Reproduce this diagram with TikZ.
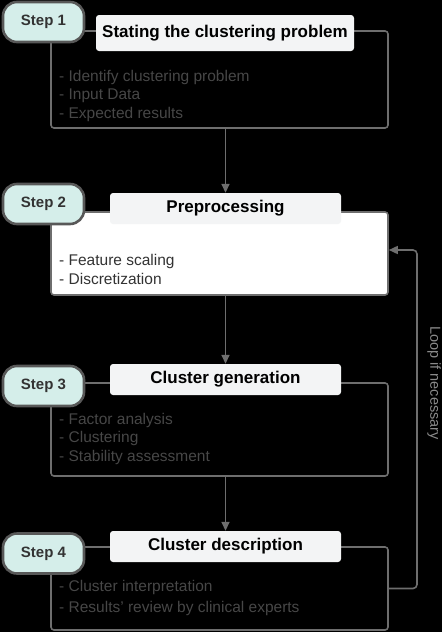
\documentclass[tikz,border=0pt]{standalone}
\usepackage{fontspec}
\setmainfont{Liberation Sans}
\usetikzlibrary{arrows.meta}
\definecolor{pillfill}{HTML}{D5EEEA}
\definecolor{pillline}{HTML}{585858}
\definecolor{frameline}{HTML}{6E6E6E}
\definecolor{titlefill}{HTML}{F3F4F5}
\definecolor{dimtext}{HTML}{474747}
\definecolor{looptext}{HTML}{8A8A8A}
\begin{document}
\begin{tikzpicture}[x=1pt,y=-1pt,
 frame/.style={draw=frameline,line width=1.6pt,rounded corners=3pt,minimum width=337pt,inner sep=0},
 titlebox/.style={fill=titlefill,rounded corners=3pt,inner sep=0,minimum height=31pt,minimum width=231pt,font=\fontsize{17}{20}\selectfont\bfseries,text=black},
 pill/.style={fill=pillfill,draw=pillline,line width=2.6pt,rounded corners=14pt,minimum width=81pt,minimum height=40pt,inner sep=0,font=\fontsize{15}{18}\selectfont\bfseries,text=black!80},
 item/.style={anchor=base west,inner sep=0,font=\fontsize{15.5}{18}\selectfont,text=dimtext},
 arr/.style={draw=frameline,line width=1.6pt,-{Triangle[length=9pt,width=8pt]}}
]
\fill[black] (0,0) rectangle (442,632);
\useasboundingbox (0,0) rectangle (442,632);
% containers
\node[frame,minimum height=97pt] (c1) at (219.5,79.5) {};
\node[frame,fill=white,minimum height=83pt] (c2) at (219.5,253.5) {};
\node[frame,minimum height=93pt] (c3) at (219.5,429.5) {};
\node[frame,minimum height=83pt] (c4) at (219.5,588.5) {};
% title boxes
\node[titlebox,minimum width=258pt,minimum height=36pt] (t1) at (225,33) {Stating the clustering problem};
\node[titlebox] (t2) at (225.5,208.5) {Preprocessing};
\node[titlebox] (t3) at (225.5,379.5) {Cluster generation};
\node[titlebox] (t4) at (225.5,546.5) {Cluster description};
% pills
\node[pill] (p1) at (43.5,22) {Step 1};
\node[pill] (p2) at (43.5,204) {Step 2};
\node[pill] (p3) at (43.5,386) {Step 3};
\node[pill] (p4) at (43.5,553.5) {Step 4};
% items
\node[item] (i11) at (59,81) {- Identify clustering problem};
\node[item] (i12) at (59,99.5) {- Input Data};
\node[item] (i13) at (59,118) {- Expected results};
\node[item,text=black!80] (i21) at (59,265.5) {- Feature scaling};
\node[item,text=black!80] (i22) at (59,284) {- Discretization};
\node[item] (i31) at (59,424) {- Factor analysis};
\node[item] (i32) at (59,442.5) {- Clustering};
\node[item] (i33) at (59,461) {- Stability assessment};
\node[item] (i41) at (59,591) {- Cluster interpretation};
\node[item] (i42) at (59,612) {- Results{\char"27} review by clinical experts};
% connectors
\draw[arr] (t2.north |- c1.south) -- (t2.north);
\draw[arr] (t3.north |- c2.south) -- (t3.north);
\draw[arr] (t4.north |- c3.south) -- (t4.north);
\coordinate (lb) at (417,588.5);
\coordinate (lt) at (417,250);
\draw[arr,rounded corners=4pt] (c4.east) -- (lb) -- (lt) -- (c2.east |- lt);
\node[rotate=-90,inner sep=0,text=looptext,font=\fontsize{14.5}{17}\selectfont] (loop) at (434,383) {Loop if necessary};
\end{tikzpicture}
\end{document}
